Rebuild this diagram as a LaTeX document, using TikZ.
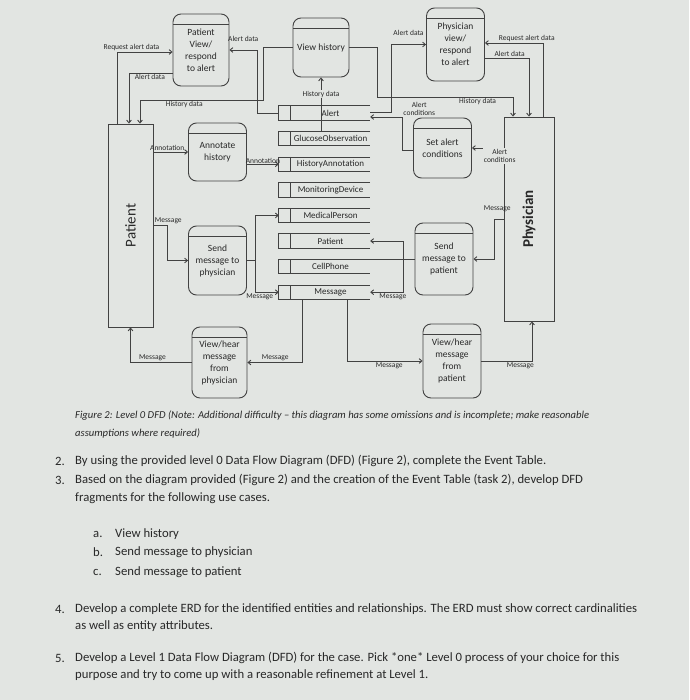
\documentclass[tikz,border=0pt]{standalone}
\usepackage{fontspec}
\setmainfont{Carlito}
\usepackage{graphicx}
\usetikzlibrary{arrows.meta, positioning}

\definecolor{pagebg}{RGB}{226,229,226}
\definecolor{linec}{RGB}{66,66,66}
\definecolor{inkc}{RGB}{40,40,40}

\begin{document}
\begin{tikzpicture}[x=1pt, y=-1pt, node distance=11.2pt,
    >={Straight Barb[length=2.8pt, width=4.8pt]},
    line/.style={draw=linec, line width=0.9pt},
    flow/.style={line, ->},
    proc/.style={draw=linec, line width=0.9pt, rounded corners=8pt, align=center,
        minimum width=58pt, minimum height=60pt, inner sep=1pt, text=inkc,
        font=\fontsize{9.5}{12}\selectfont,
        path picture={\draw[linec, line width=0.9pt]
            ([yshift=-10pt]path picture bounding box.north west) --
            ([yshift=-10pt]path picture bounding box.north east);}},
    store/.style={minimum width=91pt, minimum height=14pt, inner sep=0pt, text=inkc,
        font=\fontsize{9}{10}\selectfont, execute at begin node={\hspace*{12pt}}},
    ent/.style={draw=linec, line width=0.9pt, text=inkc, inner sep=0pt,
        font=\fontsize{15}{15}\selectfont},
    lbl/.style={font=\fontsize{7.5}{8}\selectfont, text=inkc, inner sep=1pt, align=center},
    lblf/.style={lbl, fill=pagebg},
    txt/.style={font=\fontsize{12.7}{17.5}\selectfont, text=inkc, inner sep=0pt, anchor=west, align=left}]

\path[fill=pagebg] (0,0) rectangle (689,700);
\useasboundingbox (0,0) rectangle (689,700);

% external entities
\node[ent, minimum width=45pt, minimum height=203pt] (pat) at (130.5,225.5) {\rotatebox{90}{Patient}};
\node[ent, minimum width=50pt, minimum height=204pt] (phy) at (529,219) {\rotatebox{90}{\bfseries Physician}};

% processes
\node[proc, minimum width=56pt, minimum height=72pt] (pview) at (201,50) {Patient\\View/\\respond\\to alert};
\node[proc, minimum width=56pt, minimum height=59pt] (vhist) at (321,47.5) {View history};
\node[proc, minimum height=73pt] (dview) at (455.5,44.5) {Physician\\view/\\respond\\to alert};
\node[proc, minimum height=58pt] (annot) at (217.5,152) {Annotate\\history};
\node[proc] (setal) at (442.5,148) {Set alert\\conditions};
\node[proc, minimum height=69pt] (tophy) at (217.5,260.5) {Send\\message to\\physician};
\node[proc, minimum height=72pt] (topat) at (444,259) {Send\\message to\\patient};
\node[proc, minimum width=55pt, minimum height=71pt] (hearphy) at (219.5,362.5) {View/hear\\message\\from\\physician};
\node[proc, minimum height=74pt] (hearpat) at (452,361) {View/hear\\message\\from\\patient};

% data stores
\node[store] (alert) at (324.5,113) {Alert};
\node[store, below=of alert] (glu) {GlucoseObservation};
\node[store, below=of glu] (hann) {HistoryAnnotation};
\node[store, below=of hann] (mdev) {MonitoringDevice};
\node[store, below=of mdev] (mp) {MedicalPerson};
\node[store, below=of mp] (pst) {Patient};
\node[store, below=of pst] (cell) {CellPhone};
\node[store, below=of cell] (msg) {Message};
\foreach \s in {alert, glu, hann, mdev, mp, pst, cell, msg}
    \draw[line] (\s.north east) -- (\s.north west) -- (\s.south west) -- (\s.south east)
        ([xshift=12pt]\s.north west) -- ([xshift=12pt]\s.south west);

% alert flows
\draw[flow] ([xshift=-13.5pt]pat.north) |- node[lbl, above, pos=0.63] {Request alert data} ([yshift=-2pt]pview.west);
\draw[flow] ([yshift=-23pt]pview.west) -| node[lbl, below, pos=0.26] {Alert data} ([xshift=-1.5pt]pat.north);
\draw[flow] (alert.west) -| (257,50) -- node[lbl, above=7pt] {Alert data} (pview.east);
\draw[flow] ([yshift=1pt]alert.east) -| (391,44.5) -- node[lbl, above=7pt] {Alert data} (dview.west);
\draw[flow] ([xshift=14pt]phy.north) |- node[lbl, above, pos=0.64] {Request alert data} ([yshift=1.5pt]dview.east);
\draw[flow] ([yshift=-13.5pt]dview.east) -| node[lbl, above, pos=0.28] {Alert data} (phy.north);
\draw[flow] (phy.west |- setal.east) -- node[lblf, below, pos=0.12] {Alert\\conditions} (setal.east);
\draw[flow] ([yshift=-2pt]setal.west) -| (402,117) -- node[lbl, above right, pos=0] {Alert\\conditions} ([yshift=-4pt]alert.east);

% history flows
\draw[flow] (vhist.west) -| (263,100) -| node[lbl, below, pos=0.32] {History data} ([xshift=9.5pt]pat.north);
\draw[flow] (glu.north -| vhist.south) -- node[lblf, pos=0.69] {History data} (vhist.south);
\draw[flow] (vhist.east) -| (377,97) -| node[lbl, below, pos=0.37] {History data} ([xshift=-16pt]phy.north);
\draw[flow] (pat.east |- annot.west) -- node[lbl, above, pos=0.4] {Annotation} (annot.west);
\draw[flow] (annot.east |- hann.west) -- node[lbl, above=-1pt] {Annotation} (hann.west);

% message flows
\draw[flow] (pat.east) -- node[lbl, above right, pos=0] {Message} ++(14,0) |- (tophy.west);
\draw[flow] (tophy.east) -- ++(8,0) |- (mp.west);
\draw[flow] (tophy.east) -- ++(8,0) |- node[lbl, below, pos=0.6] {Message} (msg.west);
\draw[line] (topat.west) -- (topat.west -| cell.east);
\draw[flow] (topat.west) -- ++(-11,0) |- (pst.east);
\draw[flow] (topat.west) -- ++(-11,0) |- node[lbl, below, pos=0.66] {Message} (msg.east);
\draw[flow] (phy.west) -- node[lbl, above=6pt, pos=0.7] {Message} ++(-9,0) |- (topat.east);
\draw[flow] ([xshift=-22.5pt]msg.south) |- node[lbl, above, pos=0.745] {Message} (hearphy.east);
\draw[flow] (hearphy.west) -| node[lbl, above, pos=0.32] {Message} (pat.south);
\draw[flow] ([xshift=22.5pt]msg.south) |- node[lbl, below, pos=0.78] {Message} (hearpat.west);
\draw[flow] (hearpat.east) -| node[lbl, below, pos=0.385] {Message} ([xshift=3pt]phy.south);

% caption and tasks
\node[txt, font=\fontsize{10.6}{18}\selectfont\itshape] (cap) at (75,424)
    {Figure 2: Level 0 DFD (Note: Additional difficulty -- this diagram has some omissions and is incomplete; make reasonable\\assumptions where required)};
\node[txt] (n2) at (55,461) {2.};
\node[txt] (t2) at (75,461) {By using the provided level 0 Data Flow Diagram (DFD) (Figure 2), complete the Event Table.};
\node[txt] (n3) at (55,480) {3.};
\node[txt] (t3) at (75,489) {Based on the diagram provided (Figure 2) and the creation of the Event Table (task 2), develop DFD\\fragments for the following use cases.};
\node[txt] (na) at (93,534) {a.};
\node[txt] (ta) at (115,534) {View history};
\node[txt] (nb) at (93,552) {b.};
\node[txt] (tb) at (115,552) {Send message to physician};
\node[txt] (nc) at (93,572) {c.};
\node[txt] (tc) at (115,572) {Send message to patient};
\node[txt] (n4) at (55,609) {4.};
\node[txt] (t4) at (75,617.5) {Develop a complete ERD for the identified entities and relationships. The ERD must show correct cardinalities\\as well as entity attributes.};
\node[txt] (n5) at (55,658) {5.};
\node[txt] (t5) at (75,666.5) {Develop a Level 1 Data Flow Diagram (DFD) for the case. Pick *one* Level 0 process of your choice for this\\purpose and try to come up with a reasonable refinement at Level 1.};
\end{tikzpicture}
\end{document}
